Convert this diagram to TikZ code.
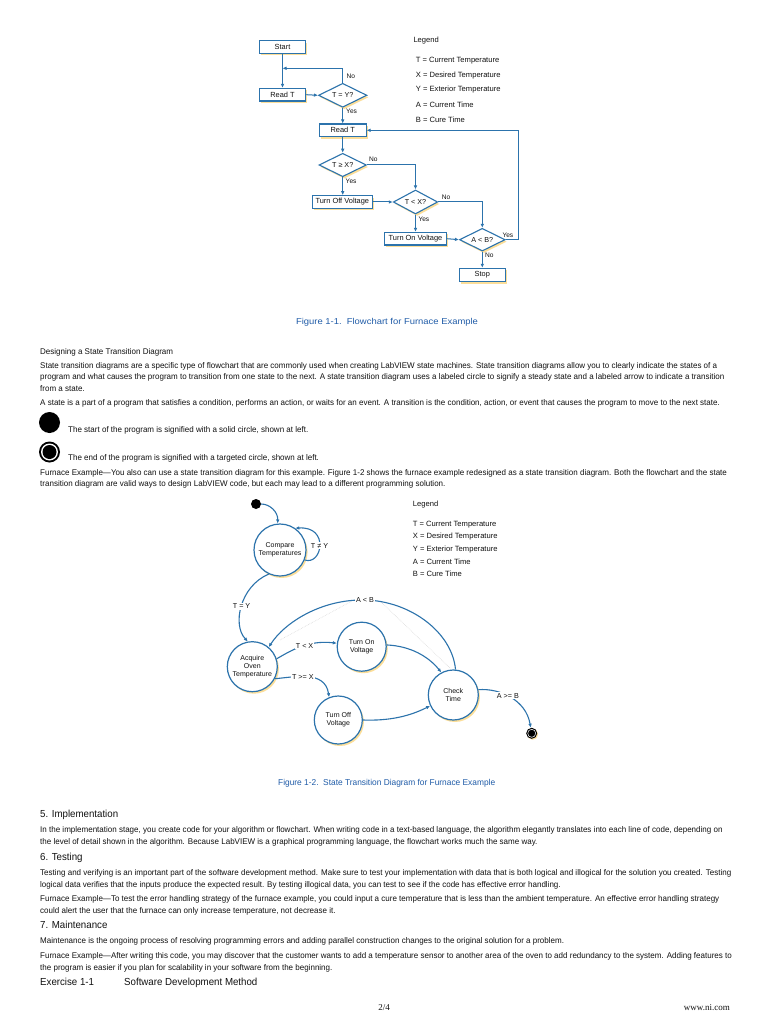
\documentclass[tikz,border=0pt]{standalone}
\usepackage{fontspec}
\usepackage{graphicx}
\setmainfont{Liberation Sans}
\newfontfamily\serf{Liberation Serif}
\usetikzlibrary{shapes.geometric,arrows.meta,shadows}
\definecolor{fcblue}{RGB}{44,115,172}
\definecolor{capblue}{RGB}{32,92,168}
\definecolor{glow}{RGB}{252,212,120}
\definecolor{txt}{RGB}{18,18,18}
\newlength\myrefw
\newlength\myrefh
\newlength\mysecw
\newlength\mycapw
\newlength\mycapwb
\newcommand\bsz{\fontsize{10}{12}\selectfont}
\AtBeginDocument{%
\settowidth\myrefw{\bsz State transition diagrams are a specific type of flowchart that are commonly used when creating LabVIEW state machines. State transition diagrams allow you to clearly indicate the states of a}%
\settoheight\myrefh{\bsz Ald}%
\settowidth\mysecw{\bsz 5. Implementation}%
\settowidth\mycapw{\bsz Figure 1-1.\ \ Flowchart for Furnace Example}%
\settowidth\mycapwb{\bsz Figure 1-2.\ \ State Transition Diagram for Furnace Example}%
\pgfmathsetmacro\myhx{677/\myrefw}\global\let\myhx\myhx
\pgfmathsetmacro\myvy{6/\myrefh}\global\let\myvy\myvy
\pgfmathsetmacro\mysx{78/\mysecw}\global\let\mysx\mysx
\pgfmathsetmacro\mysy{7.4/\myrefh}\global\let\mysy\mysy
\pgfmathsetmacro\mycx{182/\mycapw}\global\let\mycx\mycx
\pgfmathsetmacro\mycxb{217/\mycapwb}\global\let\mycxb\mycxb
\pgfmathsetmacro\mycy{6.2/\myrefh}\global\let\mycy\mycy
}
\newcommand\tline[4]{\node[anchor=base west,inner sep=0pt,text=txt] (#1) at (#2,#3) {\scalebox{\myhx}[\myvy]{\bsz #4}};}
\newcommand\secline[4]{\node[anchor=base west,inner sep=0pt,text=txt] (#1) at (#2,#3) {\scalebox{\mysx}[\mysy]{\bsz #4}};}
\begin{document}
\begin{tikzpicture}[x=1pt,y=-1pt,
  glowshadow/.style={drop shadow={shadow xshift=1.6pt,shadow yshift=-2pt,fill=glow,opacity=0.75}},
  fbox/.style={rectangle,draw=fcblue,line width=1.1pt,fill=white,inner sep=0pt,minimum height=12.6pt,
    font=\fontsize{7.4}{8}\selectfont,text=txt,glowshadow},
  fdia/.style={diamond,aspect=2,draw=fcblue,line width=1.1pt,fill=white,inner sep=0pt,
    font=\fontsize{7.2}{8}\selectfont,text=txt,glowshadow},
  fline/.style={draw=fcblue,line width=1pt},
  farr/.style={draw=fcblue,line width=1pt,-{Latex[length=4pt,width=3.6pt]}},
  flab/.style={anchor=west,inner sep=0pt,font=\fontsize{6.6}{7}\selectfont,text=txt},
  leg/.style={anchor=west,inner sep=0pt,font=\fontsize{7.6}{8}\selectfont,text=txt},
  state/.style={circle,draw=fcblue,line width=1.2pt,fill=white,inner sep=0pt,align=center,
    font=\fontsize{7}{8.3}\selectfont,text=txt,glowshadow},
  sarr/.style={draw=fcblue,line width=1.1pt,-{Latex[length=4pt,width=3.6pt]}},
  slab/.style={fill=white,inner sep=1pt,font=\fontsize{7.2}{8}\selectfont,text=txt},
  ghost/.style={draw=gray!30,densely dotted,line width=0.6pt}]
\useasboundingbox (0,0) rectangle (768,1024);
\fill[white] (0,0) rectangle (768,1024);

% ---------------- Flowchart ----------------
\node[fbox,minimum width=46.4pt] (start) at (282.5,47) {Start};
\node[fbox,minimum width=46.4pt] (read1) at (282.5,94.7) {Read T};
\node[fdia,minimum width=48.4pt,minimum height=24pt] (dTY) at (342.7,95.3) {T = Y?};
\node[fbox,minimum width=46.7pt] (read2) at (342.7,130.3) {Read T};
\node[fdia,minimum width=47.4pt,minimum height=23.4pt] (dTX) at (342.7,165) {T ≥ X?};
\node[fbox,minimum width=60pt] (off) at (342.3,202) {Turn Off Voltage};
\node[fdia,minimum width=44.4pt,minimum height=24pt] (dTlX) at (415.5,202) {T < X?};
\node[fbox,minimum width=62.4pt] (on) at (415.5,238.7) {Turn On Voltage};
\node[fdia,minimum width=45.7pt,minimum height=22.7pt] (dAB) at (482.3,239.7) {A < B?};
\node[fbox,minimum width=46.4pt,minimum height=13.4pt] (stop) at (482.3,275) {Stop};

\coordinate (j1) at (282.5,68.3);
\coordinate (fb) at (518.3,239.7);
\draw[fline] (start.south) -- (j1);
\draw[farr] (j1) -- (read1.north);
\draw[farr] (dTY.north) |- (j1);
\draw[farr] (read1.east) -- (dTY.west);
\draw[farr] (dTY.south) -- (read2.north);
\draw[farr] (read2.south) -- (dTX.north);
\draw[farr] (dTX.east) -| (dTlX.north);
\draw[farr] (dTX.south) -- (dTX.south |- off.north);
\draw[farr] (off.east) -- (dTlX.west);
\draw[farr] (dTlX.east) -| (dAB.north);
\draw[farr] (dTlX.south) -- (on.north);
\draw[farr] (on.east) -- (dAB.west);
\draw[farr] (dAB.east) -- (fb) |- (read2.east);
\draw[farr] (dAB.south) -- (stop.north);

\node[flab] (n1) at (346.5,76.7) {No};
\node[flab] (y1) at (346,110.9) {Yes};
\node[flab] (n2) at (369,159.3) {No};
\node[flab] (y2) at (345.5,180.9) {Yes};
\node[flab] (n3) at (441.7,197.3) {No};
\node[flab] (y3) at (418.3,218.9) {Yes};
\node[flab] (y4) at (502.3,235.5) {Yes};
\node[flab] (n4) at (485,255.5) {No};

\node[leg] (lg1) at (413.3,40.5) {Legend};
\node[leg] (lg1a) at (415.7,60.7) {T = Current Temperature};
\node[leg] (lg1b) at (415.7,75.2) {X = Desired Temperature};
\node[leg] (lg1c) at (415.7,90) {Y = Exterior Temperature};
\node[leg] (lg1d) at (415.7,104.7) {A = Current Time};
\node[leg] (lg1e) at (415.7,119.3) {B = Cure Time};

\node[anchor=base,inner sep=0pt,text=capblue] (cap1) at (387,324.5)
  {\scalebox{\mycx}[\mycy]{\bsz Figure 1-1.\ \ Flowchart for Furnace Example}};

% ---------------- Text block 1 ----------------
\tline{h1}{40}{354}{Designing a State Transition Diagram}
\tline{p1a}{40}{368}{State transition diagrams are a specific type of flowchart that are commonly used when creating LabVIEW state machines. State transition diagrams allow you to clearly indicate the states of a}
\tline{p1b}{40}{379.5}{program and what causes the program to transition from one state to the next. A state transition diagram uses a labeled circle to signify a steady state and a labeled arrow to indicate a transition}
\tline{p1c}{40}{391}{from a state.}
\tline{p2}{40}{405}{A state is a part of a program that satisfies a condition, performs an action, or waits for an event. A transition is the condition, action, or event that causes the program to move to the next state.}
\node[circle,fill=black,minimum size=21pt,inner sep=0pt] (sdot) at (49.5,422.5) {};
\node[circle,fill=black,minimum size=21pt,inner sep=0pt] (edot) at (49.5,452) {};
\node[circle,fill=white,minimum size=17pt,inner sep=0pt] (edotw) at (49.5,452) {};
\node[circle,fill=black,minimum size=14pt,inner sep=0pt] (edotb) at (49.5,452) {};
\tline{st}{68}{432}{The start of the program is signified with a solid circle, shown at left.}
\tline{en}{68}{460}{The end of the program is signified with a targeted circle, shown at left.}
\tline{fe1}{40}{475}{Furnace Example—You also can use a state transition diagram for this example. Figure 1-2 shows the furnace example redesigned as a state transition diagram. Both the flowchart and the state}
\tline{fe2}{40}{486}{transition diagram are valid ways to design LabVIEW code, but each may lead to a different programming solution.}

% ---------------- State diagram ----------------
\coordinate (g1) at (280,640);
\coordinate (g2) at (352,601);
\coordinate (g3) at (380,601);
\coordinate (g4) at (450,668);
\draw[ghost] (g1) -- (g2);
\draw[ghost] (g3) -- (g4);

\node[circle,fill=black,minimum size=10pt,inner sep=0pt] (s0) at (256,504) {};
\node[state,minimum size=52pt] (cmp) at (280,550) {Compare\\Temperatures};
\node[state,minimum size=50pt] (acq) at (252.3,666.7) {Acquire\\Oven\\Temperature};
\node[state,minimum size=49pt] (on2) at (361.7,646.7) {Turn On\\Voltage};
\node[state,minimum size=48pt] (off2) at (338.3,720) {Turn Off\\Voltage};
\node[state,minimum size=50pt] (chk) at (453.3,695) {Check\\Time};
\node[circle,fill=black,minimum size=11pt,inner sep=0pt,drop shadow={shadow xshift=1pt,shadow yshift=-1pt,fill=glow,opacity=0.7}] (edot2) at (531.7,733.3) {};
\node[circle,draw=white,line width=0.5pt,fill=black,minimum size=8pt,inner sep=0pt] (edot2i) at (531.7,733.3) {};

\draw[sarr] (s0.east) .. controls (270,504) and (278,512) .. (cmp.95);
\draw[sarr] (cmp.-22) .. controls (322,566) and (330,526) .. node[slab,pos=0.5] (lne) {T ≠ Y} (cmp.55);
\draw[sarr] (cmp.245) .. controls (240,586) and (232,625) .. node[slab,pos=0.5] (leq) {T = Y} (acq.100);
\coordinate (ab) at (365,600);
\draw[sarr] (chk.85) .. controls (452,632) and (410,601) .. (ab) .. controls (322,599) and (285,622) .. (acq.50);
\node[slab] (lab) at (ab) {A < B};
\draw[sarr] (acq.18) .. controls (292,650) and (308,640) .. node[slab,pos=0.55] (ltx) {T < X} (on2.172);
\draw[sarr] (acq.-28) .. controls (295,677) and (325,670) .. node[slab,pos=0.42] (lgx) {T >= X} (off2.112);
\draw[sarr] (on2.4) .. controls (410,646) and (428,656) .. (chk.118);
\draw[sarr] (off2.0) .. controls (390,721) and (410,716) .. (chk.205);
\draw[sarr] (chk.12) .. controls (500,688) and (526,700) .. node[slab,pos=0.45] (lge) {A >= B} (edot2.100);

\node[leg] (lg2) at (412.7,504.5) {Legend};
\node[leg] (lg2a) at (412.7,524.3) {T = Current Temperature};
\node[leg] (lg2b) at (412.7,536.7) {X = Desired Temperature};
\node[leg] (lg2c) at (412.7,549.3) {Y = Exterior Temperature};
\node[leg] (lg2d) at (412.7,561.7) {A = Current Time};
\node[leg] (lg2e) at (412.7,574) {B = Cure Time};

\node[anchor=base,inner sep=0pt,text=capblue] (cap2) at (386.7,785)
  {\scalebox{\mycxb}[\mycy]{\bsz Figure 1-2.\ \ State Transition Diagram for Furnace Example}};

% ---------------- Text block 2 ----------------
\secline{s5}{40}{817}{5. Implementation}
\tline{i1}{40}{832}{In the implementation stage, you create code for your algorithm or flowchart. When writing code in a text-based language, the algorithm elegantly translates into each line of code, depending on}
\tline{i2}{40}{844}{the level of detail shown in the algorithm. Because LabVIEW is a graphical programming language, the flowchart works much the same way.}
\secline{s6}{40}{860}{6. Testing}
\tline{t1}{40}{875}{Testing and verifying is an important part of the software development method. Make sure to test your implementation with data that is both logical and illogical for the solution you created. Testing}
\tline{t2}{40}{887}{logical data verifies that the inputs produce the expected result. By testing illogical data, you can test to see if the code has effective error handling.}
\tline{t3}{40}{901}{Furnace Example—To test the error handling strategy of the furnace example, you could input a cure temperature that is less than the ambient temperature. An effective error handling strategy}
\tline{t4}{40}{913}{could alert the user that the furnace can only increase temperature, not decrease it.}
\secline{s7}{40}{928}{7. Maintenance}
\tline{m1}{40}{943}{Maintenance is the ongoing process of resolving programming errors and adding parallel construction changes to the original solution for a problem.}
\tline{m2}{40}{958}{Furnace Example—After writing this code, you may discover that the customer wants to add a temperature sensor to another area of the oven to add redundancy to the system. Adding features to}
\tline{m3}{40}{970}{the program is easier if you plan for scalability in your software from the beginning.}
\secline{ex1}{40}{985}{Exercise 1-1}
\secline{ex2}{124}{985}{Software Development Method}

\node[anchor=base,inner sep=0pt,text=txt] (pg) at (384,1010) {\fontsize{9}{10}\serf 2/4};
\node[anchor=base east,inner sep=0pt,text=txt] (url) at (730,1010) {\fontsize{9}{10}\serf www.ni.com};
\end{tikzpicture}
\end{document}
